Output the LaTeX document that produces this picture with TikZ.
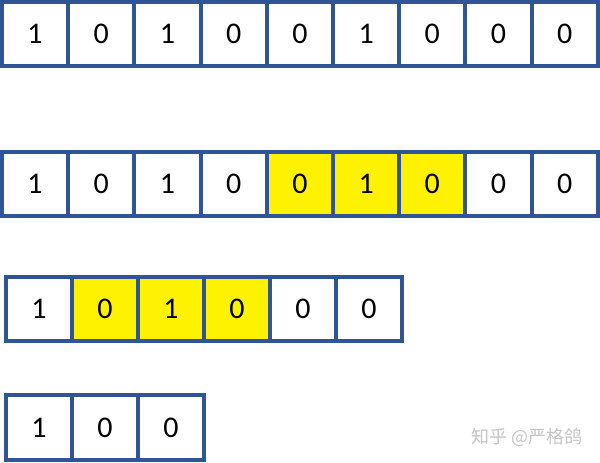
\documentclass[tikz,border=0pt]{standalone}
\usepackage{fontspec}
\setmainfont{Carlito}
\newfontfamily\cjk{Noto Sans CJK SC}
\usepackage{tikz}
\usetikzlibrary{positioning}

\definecolor{cellblue}{HTML}{2F5597}
\definecolor{markgray}{HTML}{C4C4C4}

\tikzset{
	cell/.style={draw=cellblue, line width=4pt, fill=white, minimum width=66.2pt,
		minimum height=64pt, inner sep=0pt, font=\fontsize{30}{30}\selectfont},
	hl/.style={cell, fill=yellow},
	cellb/.style={cell, minimum width=66pt}
}

\begin{document}
\begin{tikzpicture}[x=1pt,y=-1pt]
\useasboundingbox (0,0) rectangle (600,463);

% full row
\foreach \v [count=\i] in {1,0,1,0,0,1,0,0,0}{
	\node[cell] (a\i) at (2+66.2*\i-33.1,34) {\v};
}

% row with the window marked
\foreach \v [count=\i] in {1,0,1,0,0,1,0,0,0}{
	\ifnum\i>4 \ifnum\i<8
		\node[hl] (b\i) at (2+66.2*\i-33.1,184) {\v};
	\else
		\node[cell] (b\i) at (2+66.2*\i-33.1,184) {\v};
	\fi \else
		\node[cell] (b\i) at (2+66.2*\i-33.1,184) {\v};
	\fi
}

% after removal
\foreach \v [count=\i] in {1,0,1,0,0,0}{
	\ifnum\i>1 \ifnum\i<5
		\node[cellb, fill=yellow] (c\i) at (6+66*\i-33,308.5) {\v};
	\else
		\node[cellb] (c\i) at (6+66*\i-33,308.5) {\v};
	\fi \else
		\node[cellb] (c\i) at (6+66*\i-33,308.5) {\v};
	\fi
}

% final
\foreach \v [count=\i] in {1,0,0}{
	\node[cellb, minimum height=65pt] (d\i) at (6+66*\i-33,427.5) {\v};
}

\node[text=markgray, font=\cjk\fontsize{18}{18}\selectfont] (mark) at (527,437) {知乎 @严格鸽};
\end{tikzpicture}
\end{document}
